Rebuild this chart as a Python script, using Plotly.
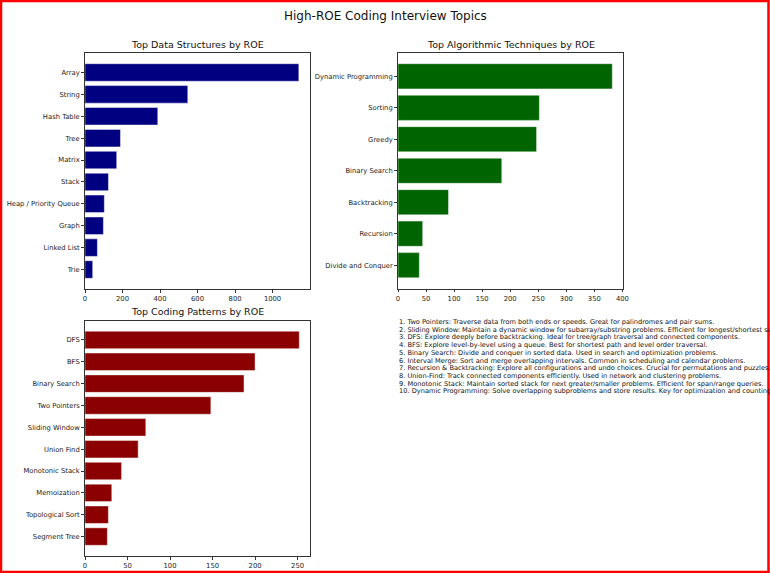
import plotly.graph_objects as go

W, H = 770, 573

# ---- data ----
ds_names = ["Array", "String", "Hash Table", "Tree", "Matrix", "Stack",
            "Heap / Priority Queue", "Graph", "Linked List", "Trie"]
ds_roe = [1140, 548, 388, 189, 169, 125, 103, 98, 66, 41]

algo_names = ["Dynamic Programming", "Sorting", "Greedy", "Binary Search",
              "Backtracking", "Recursion", "Divide and Conquer"]
algo_roe = [382, 252, 247, 185, 90, 44, 38]

pat_names = ["DFS", "BFS", "Binary Search", "Two Pointers", "Sliding Window",
             "Union Find", "Monotonic Stack", "Memoization", "Topological Sort",
             "Segment Tree"]
pat_roe = [252, 200, 187, 148, 71.5, 62.5, 43, 31.5, 27.5, 26.3]

notes = [
    "1. Two Pointers: Traverse data from both ends or speeds. Great for palindromes and pair sums.",
    "2. Sliding Window: Maintain a dynamic window for subarray/substring problems. Efficient for longest/shortest subarrays.",
    "3. DFS: Explore deeply before backtracking. Ideal for tree/graph traversal and connected components.",
    "4. BFS: Explore level-by-level using a queue. Best for shortest path and level order traversal.",
    "5. Binary Search: Divide and conquer in sorted data. Used in search and optimization problems.",
    "6. Interval Merge: Sort and merge overlapping intervals. Common in scheduling and calendar problems.",
    "7. Recursion & Backtracking: Explore all configurations and undo choices. Crucial for permutations and puzzles.",
    "8. Union-Find: Track connected components efficiently. Used in network and clustering problems.",
    "9. Monotonic Stack: Maintain sorted stack for next greater/smaller problems. Efficient for span/range queries.",
    "10. Dynamic Programming: Solve overlapping subproblems and store results. Key for optimization and counting problems.",
]

FONT = "DejaVu Sans"

def px_x(p):
    return p / W

def px_y(p):
    return 1 - p / H

fig = go.Figure()

panels = [
    (ds_names, ds_roe, "#000080", "x", "y", 200, (85, 309.5), (53, 289), "Top Data Structures by ROE"),
    (algo_names, algo_roe, "#006400", "x2", "y2", 50, (398, 623), (53, 288.5), "Top Algorithmic Techniques by ROE"),
    (pat_names, pat_roe, "#8B0000", "x3", "y3", 50, (85, 310), (320.5, 556), "Top Coding Patterns by ROE"),
]

for i, (names, vals, col, xa, ya, dt, xd, yd, title) in enumerate(panels):
    fig.add_trace(go.Bar(
        x=vals, y=names, orientation="h", width=0.8,
        marker=dict(color=col, line=dict(color="rgba(255,255,255,0.45)", width=1)),
        xaxis=xa, yaxis=ya, showlegend=False, hoverinfo="x+y",
    ))
    n = len(names)
    pad = 0.05 * (n - 1 + 0.8)
    sfx = "" if i == 0 else str(i + 1)
    axis_common = dict(showgrid=False, zeroline=False, showline=True, mirror=True,
                       linecolor="#333", linewidth=0.8, ticks="outside", ticklen=3,
                       tickwidth=0.8, tickcolor="#333", automargin=False,
                       tickfont=dict(family=FONT, size=6.8, color="#222"))
    fig.layout["xaxis" + sfx] = dict(
        domain=[px_x(xd[0]), px_x(xd[1])], anchor=ya,
        range=[0, max(vals) * 1.05], dtick=dt, tick0=0, **axis_common)
    fig.layout["yaxis" + sfx] = dict(
        domain=[px_y(yd[1]), px_y(yd[0])], anchor=xa,
        type="category", categoryorder="array", categoryarray=names,
        range=[n - 1 + 0.4 + pad, -0.4 - pad], **axis_common)
    fig.add_annotation(
        text=title, xref="paper", yref="paper",
        x=px_x((xd[0] + xd[1]) / 2), y=px_y(yd[0] - 1.5),
        xanchor="center", yanchor="bottom", showarrow=False,
        font=dict(family=FONT, size=9.5, color="#111"))

# notes text block
for k, line in enumerate(notes):
    fig.add_annotation(
        text=line, xref="paper", yref="paper",
        x=px_x(397), y=px_y(321.8 + 7.74 * k),
        xanchor="left", yanchor="middle", showarrow=False, align="left",
        font=dict(family=FONT, size=6.65, color="#111"))

# main title
fig.add_annotation(
    text="High-ROE Coding Interview Topics", xref="paper", yref="paper",
    x=0.5, y=px_y(16), xanchor="center", yanchor="middle", showarrow=False,
    font=dict(family=FONT, size=12, color="#111"))

# red frame
fig.add_shape(type="rect", xref="paper", yref="paper",
              x0=px_x(1), x1=px_x(768.5), y0=px_y(572), y1=px_y(1),
              line=dict(color="red", width=2.5), fillcolor="rgba(0,0,0,0)")

fig.update_layout(
    width=W, height=H, margin=dict(l=0, r=0, t=0, b=0),
    paper_bgcolor="white", plot_bgcolor="white",
    font=dict(family=FONT), bargap=0.2,
)

fig.write_html("out.html")
